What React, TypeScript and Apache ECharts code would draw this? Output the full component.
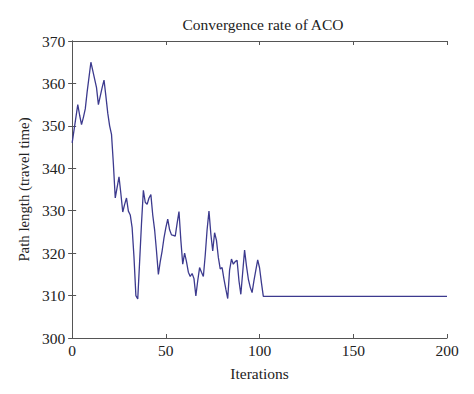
import React, { useEffect, useRef } from "react";
import * as echarts from "echarts";

const titleText = "Convergence rate of ACO";
const xName = "Iterations";
const yName = "Path length (travel time)";

// Path length read at each iteration 0..102
const earlyValues: number[] = [
  346, 349, 352, 355, 352.5, 350.3, 352, 354, 358, 361.5,
  365, 363, 361, 359, 355, 357, 359, 360.8, 357, 353,
  350, 348, 341, 333, 335.5, 338, 334, 329.7, 331.5, 333,
  329.9, 329, 326, 319, 310, 309.2, 318, 327, 334.8, 332,
  331.5, 333, 333.8, 329, 325.5, 320.5, 315, 318, 320.5, 323.6,
  326, 328, 325.5, 324.3, 324.2, 324, 327, 329.8, 323, 317.4,
  320, 318, 315.5, 314.5, 315.2, 314, 309.9, 313.5, 316.6, 315.5,
  314.5, 319.5, 325.5, 329.9, 324.5, 320.5, 324.8, 323, 319, 316.3,
  316.6, 313.9, 311.5, 309.3, 316, 318.6, 317.4, 318, 318.3, 313.5,
  310.3, 315.5, 320.7, 317, 313.9, 312, 310.7, 313.5, 316, 318.4,
  316.5, 313, 309.8,
];
// Converged value from iteration 103 to 200
const convergedValue = 309.8;
const lastIteration = 200;

const xTicks = { min: 0, max: 200, interval: 50 };
const yTicks = { min: 300, max: 370, interval: 10 };

export default function App() {
  const ref = useRef<HTMLDivElement>(null);
  useEffect(() => {
    if (!ref.current) return;
    const chart = echarts.init(ref.current, undefined, { renderer: "svg" });
    const data: [number, number][] = [];
    earlyValues.forEach((v, i) => data.push([i, v]));
    for (let i = earlyValues.length; i <= lastIteration; i++) data.push([i, convergedValue]);

    const font = "'Liberation Serif', 'DejaVu Serif', serif";
    const axisColor = "#555";
    const textColor = "#222";

    const commonAxis = {
      axisLine: { show: true, lineStyle: { color: axisColor, width: 1 } },
      axisTick: { show: true, inside: true, length: 4, lineStyle: { color: axisColor } },
      splitLine: { show: false },
    };

    chart.setOption({
      animation: false,
      backgroundColor: "#fff",
      title: {
        text: titleText,
        left: 250,
        textAlign: "center",
        top: 3,
        textStyle: { fontFamily: font, fontWeight: "normal", fontSize: 15.5, color: textColor },
      },
      grid: { left: 60, right: 19, top: 33, bottom: 47, containLabel: false },
      xAxis: [
        {
          type: "value",
          ...xTicks,
          position: "bottom",
          ...commonAxis,
          axisLabel: { fontFamily: font, fontSize: 15.5, color: textColor, margin: 4 },
          name: xName,
          nameLocation: "middle",
          nameGap: 27,
          nameTextStyle: { fontFamily: font, fontSize: 15.5, color: textColor },
        },
        {
          type: "value",
          ...xTicks,
          position: "top",
          ...commonAxis,
          axisLabel: { show: false },
        },
      ],
      yAxis: [
        {
          type: "value",
          ...yTicks,
          position: "left",
          ...commonAxis,
          axisLabel: { fontFamily: font, fontSize: 15.5, color: textColor, margin: 7 },
          name: yName,
          nameLocation: "middle",
          nameGap: 38,
          nameTextStyle: { fontFamily: font, fontSize: 14.8, color: textColor },
        },
        {
          type: "value",
          ...yTicks,
          position: "right",
          ...commonAxis,
          axisLabel: { show: false },
        },
      ],
      series: [
        {
          type: "line",
          data,
          xAxisIndex: 0,
          yAxisIndex: 0,
          showSymbol: false,
          symbol: "none",
          lineStyle: { color: "#3c3a8e", width: 1.3 },
        },
      ],
    });
    return () => chart.dispose();
  }, []);
  return <div ref={ref} style={{ width: 458, height: 378 }} />;
}
